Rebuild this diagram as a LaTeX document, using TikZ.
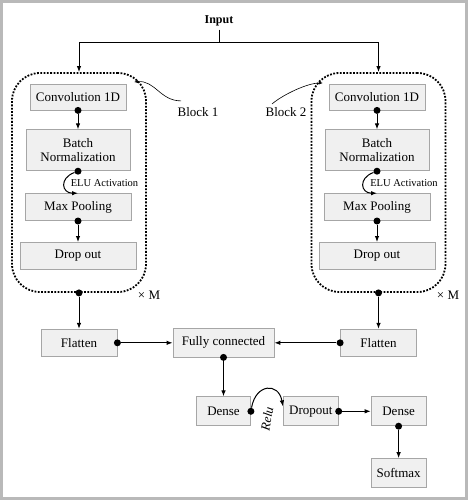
\documentclass[tikz,border=0pt]{standalone}
\usepackage{fontspec}
\setmainfont{Liberation Serif}
\usetikzlibrary{arrows.meta,positioning}

\begin{document}
\begin{tikzpicture}[
    x=1pt, y=-1pt,
    >={Latex[length=6pt,width=4.5pt]},
    font=\fontsize{13}{14}\selectfont,
    box/.style={rectangle, draw=gray!70, fill=gray!12, line width=0.8pt, minimum height=27pt, inner sep=1pt, align=center},
    block/.style={rectangle, draw, rounded corners=28pt, line width=1.8pt, dash pattern=on 1.8pt off 1.5pt, minimum width=134pt, minimum height=219pt},
    dotc/.style={circle, fill, inner sep=0pt, minimum size=7pt},
    conn/.style={->, line width=1pt},
    thinarr/.style={-{Latex[length=4pt,width=3pt]}, line width=0.6pt},
    small/.style={font=\fontsize{10.5}{12}\selectfont}
]
\useasboundingbox (0,0) rectangle (468,500);
\draw[gray!55, line width=3pt] (1.5,1.5) rectangle (466.5,498.5);

% Input
\node[font=\fontsize{12}{14}\selectfont\bfseries] (input) at (219,21) {Input};
\coordinate (split) at (219,43);

% Block 1
\node[block] (blk1) at (79,182.5) {};
\node[box, minimum width=96pt, minimum height=26pt] (conv1) at (78,97) {Convolution 1D};
\node[box, minimum width=104pt, minimum height=41pt, below=19pt of conv1] (bn1) {Batch\\Normalization};
\node[box, minimum width=106pt, below=22pt of bn1] (mp1) {Max Pooling};
\node[box, minimum width=116pt, below=21pt of mp1] (do1) {Drop out};
\node[small] (elu1) at (104.5,183) {ELU Activation};
\node (rep1) at (149,295) {× M};

% Block 2
\node[block] (blk2) at (378.5,182.5) {};
\node[box, minimum width=96pt, minimum height=26pt] (conv2) at (377,97) {Convolution 1D};
\node[box, minimum width=104pt, minimum height=41pt, below=19pt of conv2] (bn2) {Batch\\Normalization};
\node[box, minimum width=106pt, below=22pt of bn2] (mp2) {Max Pooling};
\node[box, minimum width=116pt, below=21pt of mp2] (do2) {Drop out};
\node[small] (elu2) at (404,183) {ELU Activation};
\node (rep2) at (448,295) {× M};

% Block labels
\node (lab1) at (198,112) {Block 1};
\node (lab2) at (286,112) {Block 2};
\coordinate (tip1) at (134,82);
\coordinate (tip2) at (323,83);

% Head
\node[box, minimum width=76pt, below=36pt of blk1] (flat1) {Flatten};
\node[box, minimum width=76pt, below=36pt of blk2] (flat2) {Flatten};
\node[box, minimum width=101pt, minimum height=29pt] (fc) at (223.5,342.5) {Fully connected};
\node[box, minimum width=54pt, minimum height=29pt, below=39pt of fc] (dns1) {Dense};
\node[box, minimum width=55pt, minimum height=29pt, right=32pt of dns1] (drp) {Dropout};
\node[box, minimum width=55pt, minimum height=29pt, right=32pt of drp] (dns2) {Dense};
\node[box, minimum width=55pt, minimum height=29pt, below=32pt of dns2] (smx) {Softmax};
\node[font=\fontsize{13}{14}\selectfont\itshape, rotate=80] (relu) at (267,419) {Relu};

% Dots
\foreach \n/\a in {c1d/conv1.south, b1d/bn1.south, m1d/mp1.south, k1d/blk1.south,
                   c2d/conv2.south, b2d/bn2.south, m2d/mp2.south, k2d/blk2.south,
                   f1d/flat1.east, f2d/flat2.west, fcd/fc.south, d1d/dns1.east,
                   rpd/drp.east, d2d/dns2.south}
    \node[dotc] (\n) at (\a) {};

% Arrows
\draw[line width=1pt] (input) -- (split);
\draw[conn] (split) -| (blk1.north);
\draw[conn] (split) -| (blk2.north);
\draw[conn] (c1d) -- (bn1);
\draw[conn] (b1d) to[out=200, in=180, looseness=2] (mp1.north);
\draw[conn] (m1d) -- (do1);
\draw[conn] (k1d) -- (flat1);
\draw[conn] (c2d) -- (bn2);
\draw[conn] (b2d) to[out=200, in=180, looseness=2] (mp2.north);
\draw[conn] (m2d) -- (do2);
\draw[conn] (k2d) -- (flat2);
\draw[conn] (f1d) -- (f1d -| fc.west);
\draw[conn] (f2d) -- (f2d -| fc.east);
\draw[conn] (fcd) -- (dns1);
\draw[conn] (d1d) to[out=80, in=100, looseness=2] (drp.170);
\draw[conn] (rpd) -- (dns2);
\draw[conn] (d2d) -- (smx);
\draw[thinarr] ([shift={(7,-3)}]lab1.north west) .. controls +(-21,0) and +(21,-2) .. (tip1);
\draw[thinarr] ([shift={(10,0)}]lab2.north west) .. controls +(12,-10) and +(-15,0) .. (tip2);
\end{tikzpicture}
\end{document}
